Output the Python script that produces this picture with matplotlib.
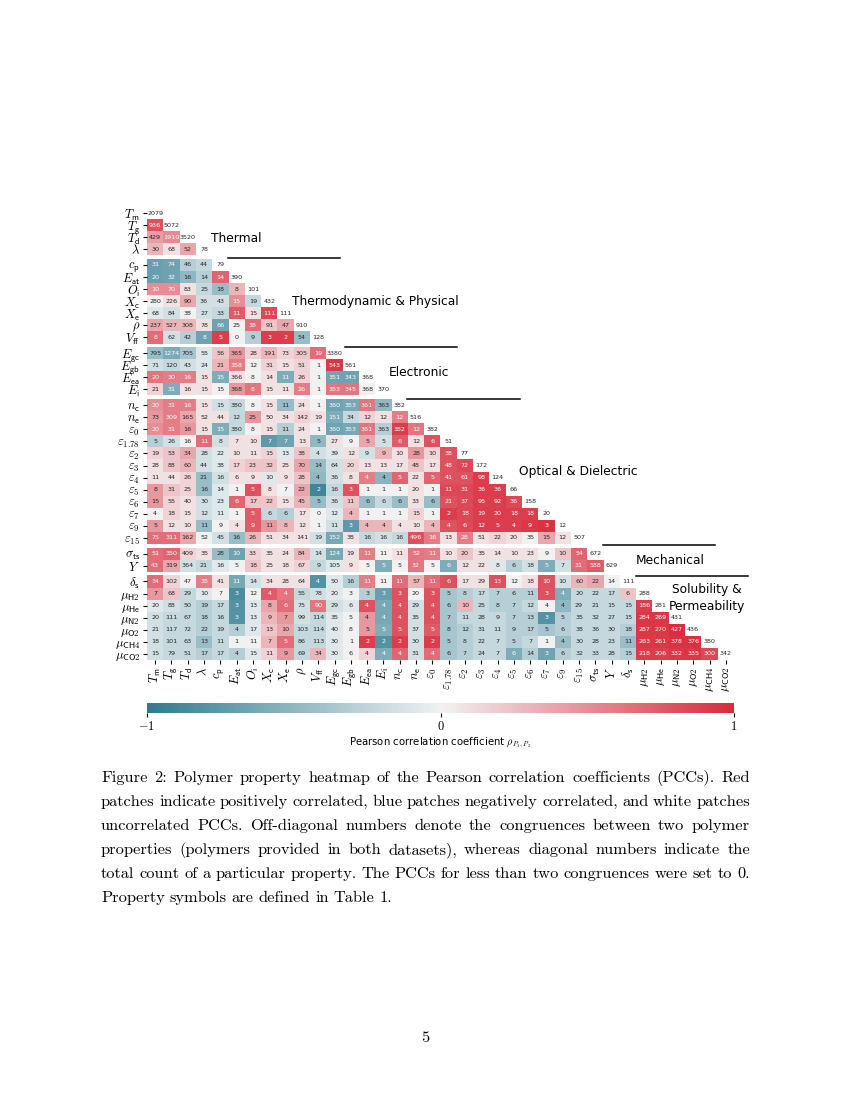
import numpy as np
import matplotlib
matplotlib.use("Agg")
import matplotlib.pyplot as plt
import seaborn as sns
from matplotlib.lines import Line2D

plt.rcParams["mathtext.fontset"] = "cm"
plt.rcParams["font.family"] = ["DejaVu Sans"]

# property symbols (rows and columns, same order)
labels = [r"T_\mathsf{m}", r"T_\mathsf{g}", r"T_\mathsf{d}", r"\lambda", r"c_\mathsf{p}",
          r"E_\mathsf{at}", r"O_\mathsf{i}", r"X_\mathsf{c}", r"X_\mathsf{e}", r"\rho",
          r"V_\mathsf{ff}", r"E_\mathsf{gc}", r"E_\mathsf{gb}", r"E_\mathsf{ea}", r"E_\mathsf{i}",
          r"n_\mathsf{c}", r"n_\mathsf{e}", r"\varepsilon_0", r"\varepsilon_{1.78}", r"\varepsilon_2",
          r"\varepsilon_3", r"\varepsilon_4", r"\varepsilon_5", r"\varepsilon_6", r"\varepsilon_7",
          r"\varepsilon_9", r"\varepsilon_{15}", r"\sigma_\mathsf{ts}", r"Y", r"\delta_\mathsf{s}",
          r"\mu_\mathsf{H2}", r"\mu_\mathsf{He}", r"\mu_\mathsf{N2}", r"\mu_\mathsf{O2}",
          r"\mu_\mathsf{CH4}", r"\mu_\mathsf{CO2}"]

group_names = ["Thermal", "Thermodynamic & Physical", "Electronic",
               "Optical & Dielectric", "Mechanical", "Solubility &\nPermeability"]
group_starts = [0, 4, 11, 15, 27, 29]

# congruence counts, lower triangle incl. diagonal
counts = [
    [2079],
    [936, 5072],
    [429, 1910, 3520],
    [30, 68, 52, 78],
    [31, 74, 46, 44, 79],
    [20, 32, 16, 14, 14, 390],
    [10, 70, 83, 25, 18, 8, 101],
    [280, 226, 90, 36, 43, 15, 19, 432],
    [68, 84, 38, 27, 33, 11, 15, 111, 111],
    [237, 527, 308, 78, 66, 25, 38, 91, 47, 910],
    [8, 62, 42, 8, 5, 0, 9, 3, 2, 54, 128],
    [795, 1274, 705, 55, 56, 365, 28, 191, 73, 305, 19, 3380],
    [71, 120, 43, 24, 21, 358, 12, 31, 15, 51, 1, 543, 561],
    [20, 30, 16, 15, 15, 366, 8, 14, 11, 26, 1, 351, 343, 368],
    [21, 31, 16, 15, 15, 368, 8, 15, 11, 26, 1, 353, 345, 368, 370],
    [20, 31, 16, 15, 15, 380, 8, 15, 11, 24, 1, 360, 353, 361, 363, 382],
    [73, 309, 165, 52, 44, 12, 25, 50, 34, 142, 19, 151, 34, 12, 12, 12, 516],
    [20, 31, 16, 15, 15, 380, 8, 15, 11, 24, 1, 360, 353, 361, 363, 382, 12, 382],
    [5, 26, 16, 11, 8, 7, 10, 7, 7, 13, 5, 27, 9, 5, 5, 6, 12, 6, 51],
    [19, 53, 34, 28, 22, 10, 11, 15, 13, 38, 4, 39, 12, 9, 9, 10, 28, 10, 38, 77],
    [28, 88, 60, 44, 38, 17, 23, 32, 25, 70, 14, 64, 20, 13, 13, 17, 48, 17, 48, 72, 172],
    [11, 44, 26, 21, 16, 6, 9, 10, 9, 28, 4, 36, 8, 4, 4, 5, 22, 5, 41, 61, 98, 124],
    [8, 31, 25, 16, 14, 1, 5, 8, 7, 22, 2, 16, 3, 1, 1, 1, 20, 1, 11, 31, 36, 36, 66],
    [15, 55, 40, 30, 23, 6, 17, 22, 15, 45, 5, 36, 11, 6, 6, 6, 33, 6, 21, 37, 95, 92, 36, 158],
    [4, 18, 15, 12, 11, 1, 5, 6, 6, 17, 0, 12, 4, 1, 1, 1, 15, 1, 2, 18, 19, 20, 18, 18, 20],
    [5, 12, 10, 11, 9, 4, 9, 11, 8, 12, 1, 11, 3, 4, 4, 4, 10, 4, 4, 6, 12, 5, 4, 9, 3, 12],
    [75, 311, 162, 52, 45, 16, 26, 51, 34, 141, 19, 152, 38, 16, 16, 16, 496, 16, 13, 28, 51,
     22, 20, 35, 15, 12, 507],
    [51, 350, 409, 35, 28, 10, 33, 35, 24, 84, 14, 124, 19, 11, 11, 11, 52, 11, 10, 20, 35,
     14, 10, 23, 9, 10, 54, 672],
    [43, 319, 364, 21, 16, 5, 18, 25, 18, 67, 9, 105, 9, 5, 5, 5, 32, 5, 6, 12, 22, 8, 6, 18,
     5, 7, 31, 588, 629],
    [34, 102, 47, 35, 41, 11, 14, 34, 28, 64, 4, 50, 16, 11, 11, 11, 57, 11, 6, 17, 29, 13,
     12, 18, 10, 10, 60, 22, 14, 111],
    [7, 68, 29, 10, 7, 3, 12, 4, 4, 55, 78, 20, 3, 3, 3, 3, 20, 3, 5, 8, 17, 7, 6, 11, 3, 4,
     20, 22, 17, 6, 288],
    [20, 88, 50, 19, 17, 3, 13, 8, 6, 75, 90, 29, 6, 4, 4, 4, 29, 4, 6, 10, 25, 8, 7, 12, 4,
     4, 29, 21, 15, 15, 186, 281],
    [20, 111, 67, 18, 16, 3, 13, 9, 7, 99, 114, 35, 5, 4, 4, 4, 35, 4, 7, 11, 28, 9, 7, 13, 3,
     5, 35, 32, 27, 15, 284, 269, 431],
    [21, 117, 72, 22, 19, 4, 17, 13, 10, 103, 114, 40, 8, 5, 5, 5, 37, 5, 8, 12, 31, 11, 9,
     17, 5, 6, 38, 36, 30, 18, 287, 270, 427, 436],
    [18, 101, 63, 13, 11, 1, 11, 7, 5, 86, 113, 30, 1, 2, 2, 2, 30, 2, 5, 8, 22, 7, 5, 7, 1,
     4, 30, 28, 23, 11, 263, 261, 378, 376, 380],
    [15, 79, 51, 17, 17, 4, 15, 11, 9, 69, 34, 30, 6, 4, 4, 4, 31, 4, 6, 7, 24, 7, 6, 14, 3,
     6, 32, 33, 28, 15, 218, 206, 332, 335, 300, 342],
]

# Pearson correlation coefficients, lower triangle without diagonal (read from colours)
pcc = [
    [],
    [0.8],
    [0.42, 0.52],
    [0.3, 0.08, 0.38],
    [-0.7, -0.66, -0.3, -0.22],
    [-0.7, -0.66, -0.5, -0.3, 0.7],
    [0.5, 0.5, 0.08, -0.22, -0.45, 0.3],
    [0.0, 0.08, 0.38, -0.15, -0.15, 0.5, -0.22],
    [-0.08, -0.15, 0.0, -0.15, -0.22, 0.75, 0.08, 0.85],
    [0.38, 0.3, 0.3, 0.08, -0.66, 0.0, 0.66, 0.22, 0.38],
    [0.66, -0.15, -0.3, -0.66, 0.9, 0.0, -0.3, 0.9, 0.9, -0.45],
    [-0.45, -0.6, -0.38, -0.08, 0.22, 0.45, 0.15, 0.3, 0.15, 0.22, 0.66],
    [-0.15, -0.22, -0.15, -0.08, 0.3, 0.58, 0.0, 0.15, 0.08, 0.15, 0.0, 0.93],
    [0.62, 0.58, 0.58, 0.08, -0.58, 0.08, 0.0, 0.08, -0.58, 0.15, 0.0, -0.66, -0.66],
    [0.15, -0.58, 0.08, 0.08, 0.0, 0.45, 0.62, 0.08, 0.08, 0.58, 0.0, 0.62, 0.62, 0.0],
    [0.5, 0.58, 0.58, 0.08, -0.15, -0.22, 0.0, 0.08, -0.45, 0.08, 0.0, -0.66, -0.62, 0.62, -0.5],
    [0.45, 0.58, 0.38, 0.08, 0.08, -0.22, 0.45, 0.08, 0.08, 0.15, 0.08, -0.58, -0.22, 0.15,
     0.08, 0.58],
    [0.5, 0.58, 0.45, 0.08, -0.58, -0.22, 0.0, 0.08, -0.3, 0.08, 0.0, -0.66, -0.62, 0.62,
     -0.3, 0.9, 0.62],
    [-0.3, -0.15, 0.0, 0.66, -0.15, 0.08, 0.08, -0.75, -0.66, 0.08, -0.5, 0.08, 0.0, 0.38,
     -0.15, 0.75, 0.08, 0.8],
    [0.15, 0.22, 0.38, -0.15, -0.08, 0.08, 0.08, 0.15, -0.08, 0.22, -0.15, -0.08, 0.08, -0.15,
     0.3, 0.08, 0.45, 0.15, 0.8],
    [0.08, 0.22, 0.3, -0.15, -0.08, 0.15, 0.22, 0.22, 0.08, 0.38, -0.45, -0.15, 0.15, 0.08,
     0.08, 0.08, 0.22, 0.08, 0.8, 0.85],
    [0.08, 0.08, 0.15, -0.45, -0.15, 0.08, 0.08, -0.08, 0.08, 0.22, -0.5, -0.15, 0.08, 0.58,
     -0.52, 0.7, 0.08, 0.7, 0.8, 0.8, 0.9],
    [0.45, 0.22, 0.15, -0.45, -0.08, 0.0, 0.8, 0.08, 0.0, 0.38, -0.9, -0.22, 0.8, 0.0, 0.0,
     0.0, 0.08, 0.0, 0.85, 0.85, 0.9, 0.9],
    [0.45, 0.15, 0.08, -0.15, -0.08, 0.7, 0.22, 0.22, 0.08, 0.3, -0.45, -0.15, 0.22, -0.45,
     -0.22, -0.45, 0.08, -0.45, 0.8, 0.85, 0.9, 0.9, 0.85],
    [0.0, 0.15, 0.08, -0.15, -0.08, 0.0, 0.75, -0.22, -0.3, 0.08, 0.0, -0.08, 0.3, 0.0, 0.0,
     0.0, 0.15, 0.0, 0.9, 0.85, 0.9, 0.9, 0.9, 0.9],
    [0.45, 0.08, 0.08, -0.45, 0.0, 0.08, 0.75, 0.45, 0.3, 0.08, 0.0, -0.15, -0.75, 0.3, 0.3,
     0.08, 0.08, 0.3, 0.8, 0.85, 0.9, 0.9, 0.9, 0.93, 0.96],
    [0.66, 0.66, 0.38, 0.0, -0.15, -0.45, 0.3, 0.08, 0.08, 0.08, -0.15, -0.62, 0.08, -0.22,
     -0.15, -0.22, 0.8, 0.58, 0.08, 0.58, 0.08, 0.15, 0.08, 0.0, 0.38, 0.08],
    [0.66, 0.7, 0.15, 0.08, -0.45, -0.66, 0.15, 0.08, 0.08, 0.3, -0.15, -0.62, 0.08, 0.58,
     0.0, 0.08, 0.62, 0.58, 0.08, 0.22, 0.08, 0.08, 0.08, 0.08, 0.0, 0.22, 0.7],
    [0.66, 0.38, -0.15, -0.22, -0.08, 0.0, 0.22, 0.08, 0.08, 0.15, -0.22, -0.08, 0.08, 0.0,
     -0.58, 0.0, 0.62, 0.0, -0.58, 0.08, 0.08, -0.08, -0.3, -0.15, -0.58, -0.15, 0.66, 0.75],
    [0.66, 0.15, 0.0, 0.58, 0.08, -0.62, -0.15, 0.08, 0.08, 0.08, -0.8, -0.08, -0.3, 0.58,
     0.0, 0.66, 0.3, 0.66, 0.8, 0.08, 0.08, 0.8, 0.0, 0.08, 0.8, -0.15, 0.3, 0.38, 0.0],
    [0.45, 0.22, -0.22, -0.08, 0.0, -0.85, 0.0, 0.75, 0.62, -0.22, -0.15, -0.08, 0.0, -0.3,
     -0.7, 0.8, 0.0, 0.8, -0.38, -0.3, -0.22, -0.3, -0.3, -0.3, 0.8, -0.58, -0.22, -0.22,
     -0.22, 0.22],
    [-0.08, -0.15, -0.22, -0.3, -0.22, -0.8, -0.08, 0.38, 0.66, -0.15, 0.62, -0.15, -0.08,
     0.8, -0.62, 0.8, -0.15, 0.8, -0.38, 0.3, -0.22, -0.3, -0.3, -0.22, 0.0, -0.5, -0.22,
     -0.22, -0.22, -0.22, 0.9],
    [-0.15, -0.22, -0.22, -0.3, -0.22, -0.8, -0.08, 0.3, 0.45, -0.15, -0.22, -0.08, 0.0, 0.45,
     -0.62, 0.8, -0.15, 0.8, -0.38, -0.22, -0.22, -0.22, -0.3, -0.3, -0.8, -0.3, -0.22, -0.22,
     -0.22, -0.22, 0.93, 0.93],
    [-0.15, -0.22, -0.22, -0.3, -0.22, -0.3, -0.08, 0.22, 0.38, -0.22, -0.22, -0.08, 0.0, 0.45,
     -0.58, 0.8, -0.15, 0.75, -0.38, -0.3, -0.22, -0.22, -0.3, -0.3, -0.38, -0.3, -0.22, -0.22,
     -0.22, -0.3, 0.93, 0.93, 0.98],
    [-0.15, -0.22, -0.22, -0.45, -0.22, 0.0, 0.0, 0.3, 0.66, -0.22, -0.22, -0.08, 0.0, 0.9,
     -0.8, 0.9, -0.15, 0.9, -0.38, -0.3, -0.22, -0.22, -0.3, -0.22, 0.0, -0.45, -0.22, -0.22,
     -0.22, -0.45, 0.93, 0.93, 0.96, 0.96],
    [-0.15, -0.22, -0.22, -0.3, -0.22, -0.3, -0.08, 0.15, 0.45, -0.22, 0.3, -0.08, 0.0, 0.15,
     -0.58, 0.7, -0.15, 0.66, -0.38, -0.3, -0.22, -0.22, -0.58, -0.3, -0.66, -0.3, -0.22,
     -0.22, -0.22, -0.3, 0.9, 0.9, 0.93, 0.93, 0.85],
]

caption_lines = [
    "Figure 2: Polymer property heatmap of the Pearson correlation coefficients (PCCs). Red",
    "patches indicate positively correlated, blue patches negatively correlated, and white patches",
    "uncorrelated PCCs. Off-diagonal numbers denote the congruences between two polymer",
    "properties (polymers provided in both datasets), whereas diagonal numbers indicate the",
    "total count of a particular property. The PCCs for less than two congruences were set to 0.",
    "Property symbols are defined in Table 1.",
]

W, H = 850, 1100
fig = plt.figure(figsize=(W / 100, H / 100), dpi=100)


def fx(x):
    return x / W


def fy(y):
    return 1 - y / H


n = len(labels)
corr = np.full((n, n), np.nan)
for i, row in enumerate(pcc):
    corr[i, :len(row)] = row

cmap = sns.diverging_palette(220, 10, s=85, l=48, as_cmap=True)

gap = 0.3
n_groups = len(group_starts)
bounds = group_starts + [n]

ax = fig.add_axes([fx(147), fy(660), fx(734) - fx(147), (660 - 207) / H])
y_center = np.zeros(n)
for g in range(n_groups):
    a, b = bounds[g], bounds[g + 1]
    y_edges = np.arange(a, b + 1) + gap * g
    y_center[a:b] = y_edges[:-1] + 0.5
    mesh = ax.pcolormesh(np.arange(n + 1), y_edges, np.ma.masked_invalid(corr[a:b]),
                         cmap=cmap, vmin=-1, vmax=1)

ax.set_xlim(0, n)
ax.set_ylim(n + gap * (n_groups - 1), 0)


def text_color(val):
    if np.isnan(val):
        return ".15"
    rgb = np.array(cmap((val + 1) / 2)[:3])
    rgb = np.where(rgb <= 0.03928, rgb / 12.92, ((rgb + 0.055) / 1.055) ** 2.4)
    lum = rgb.dot([0.2126, 0.7152, 0.0722])
    return ".15" if lum > 0.408 else "w"


for i, row in enumerate(counts):
    for j, c in enumerate(row):
        ax.text(j + 0.5, y_center[i], str(c), ha="center", va="center",
                fontsize=4.6, color=text_color(corr[i, j]))

ax.set_xticks(np.arange(n) + 0.5)
ax.set_xticklabels([f"${l}$" for l in labels], rotation=90, fontsize=9)
ax.set_yticks(y_center)
ax.set_yticklabels([f"${l}$" for l in labels], fontsize=9)
ax.tick_params(length=3, width=0.8, pad=2)
for sp in ax.spines.values():
    sp.set_visible(False)

# colour bar
cax = fig.add_axes([fx(147), fy(713), fx(734) - fx(147), 10 / H])
cb = fig.colorbar(mesh, cax=cax, orientation="horizontal", ticks=[-1, 0, 1])
cb.outline.set_visible(False)
cb.ax.set_xticklabels([r"$-1$", r"$0$", r"$1$"], fontsize=9)
cb.ax.tick_params(length=3, width=0.8, pad=2)
cb.set_label(r"Pearson correlation coefficient $\rho_{P_1,P_2}$", fontsize=7.3, labelpad=2)

# group annotations
text_pos = [(211, 238, "left"), (292, 302, "left"), (389, 373, "left"),
            (519, 472, "left"), (636, 561, "left"), (707, 598, "center")]
line_pos = [(228, 340, 258), (345, 457, 347), (407, 520, 399), (603, 715, 545),
            (636, 748, 576)]
for name, (x, y, ha) in zip(group_names, text_pos):
    fig.text(fx(x), fy(y), name, fontsize=8.8, ha=ha, va="center",
             multialignment="center", linespacing=1.4)
for x0, x1, y in line_pos:
    fig.add_artist(Line2D([fx(x0), fx(x1)], [fy(y), fy(y)], color="black", lw=1.1,
                          transform=fig.transFigure))

# caption, justified
renderer = fig.canvas.get_renderer()
cap_size = 11.8
for k, line in enumerate(caption_lines):
    y = fy(782 + 24 * k)
    words = line.split(" ")
    objs = [fig.text(0, y, w, fontsize=cap_size, family="cmr10", va="baseline") for w in words]
    widths = [o.get_window_extent(renderer).width + 1 for o in objs]
    if k < len(caption_lines) - 1:
        space = max((650 - sum(widths)) / (len(words) - 1), 3.0)
    else:
        space = 0.24 * cap_size * 100 / 72
    x = 101
    for o, w in zip(objs, widths):
        o.set_x(fx(x))
        x += w + space

fig.text(fx(425), fy(1042), "5", fontsize=cap_size, family="cmr10", ha="center",
         va="baseline")

fig.savefig("out.png", dpi=100)
